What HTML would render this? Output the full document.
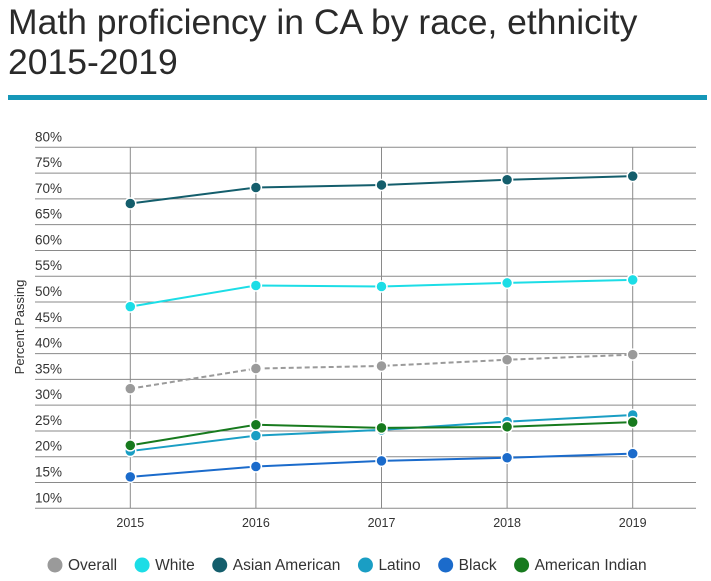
<!DOCTYPE html>
<html><head><meta charset="utf-8"><style>
body{margin:0;width:711px;height:581px;background:#fff;font-family:"Liberation Sans",sans-serif;overflow:hidden;position:relative}
h1{position:absolute;left:8px;top:2px;margin:0;font-weight:normal;font-size:35.5px;line-height:40px;color:#2a2a2a}
.bar{position:absolute;left:8px;top:95px;width:699px;height:5px;background:#1597b8}
svg{position:absolute;left:0;top:0}
</style></head><body>
<h1>Math proficiency in CA by race, ethnicity<br>2015-2019</h1>
<div class="bar"></div>
<svg id="c" width="711" height="581"></svg>
<script>
const years=["2015","2016","2017","2018","2019"];
const yTicks=[10,15,20,25,30,35,40,45,50,55,60,65,70,75,80];
const overall=[33.2,37.1,37.6,38.8,39.8];
const white=[49.1,53.2,53.0,53.7,54.3];
const asian=[69.1,72.2,72.7,73.7,74.4];
const latino=[21.1,24.1,25.2,26.8,28.1];
const black=[16.1,18.1,19.2,19.8,20.6];
const amind=[22.2,26.2,25.6,25.8,26.7];
const series=[
 {name:"Overall",vals:overall,color:"#9a9a9a",dash:"5,3"},
 {name:"White",vals:white,color:"#1cdde6"},
 {name:"Asian American",vals:asian,color:"#145e6c"},
 {name:"Latino",vals:latino,color:"#1a9ec4"},
 {name:"Black",vals:black,color:"#1b6bcb"},
 {name:"American Indian",vals:amind,color:"#177a1e"}];
const NS="http://www.w3.org/2000/svg",svg=document.getElementById('c');
const X0=35,X1=696,Y0=508.3,Y1=147.3;
const y=v=>Y0-(v-10)/70*(Y0-Y1);
const x=i=>130.3+i*125.6;
function mk(t,a){const e=document.createElementNS(NS,t);for(const k in a)e.setAttribute(k,a[k]);svg.appendChild(e);return e;}
yTicks.forEach(v=>{
 const l=mk('line',{x1:X0,x2:X1,y1:y(v),y2:y(v),stroke:'#8a8a8a','stroke-width':1});
 
 
 const t=mk('text',{x:X0,y:y(v)-6,'font-size':13.5,fill:'#333'});t.textContent=v+'%';
 
 
});
years.forEach((yr,i)=>{
 const l=mk('line',{x1:x(i),x2:x(i),y1:Y1,y2:Y0,stroke:'#8a8a8a','stroke-width':1});
 
 
 const t=mk('text',{x:x(i),y:527,'font-size':12.5,fill:'#333','text-anchor':'middle'});t.textContent=yr;
 
 
});
const yt=mk('text',{x:0,y:0,'font-size':13,fill:'#333','text-anchor':'middle',transform:'translate(24,327) rotate(-90)'});yt.textContent='Percent Passing';


series.forEach(s=>{
 const p=mk('polyline',{points:s.vals.map((v,i)=>x(i)+','+y(v)).join(' '),fill:'none',stroke:s.color,'stroke-width':2,'stroke-dasharray':s.dash||'none'});
 
 
 s.vals.forEach((v,i)=>{
  const c=mk('circle',{cx:x(i),cy:y(v),r:5.5,fill:s.color,stroke:'#fff','stroke-width':1.5});
  
  
 });
});
let lx=47;
series.forEach(s=>{
 const c=mk('circle',{cx:lx+8,cy:565,r:7.5,fill:s.color});
 
 
 const t=mk('text',{x:lx+21,y:570,'font-size':15.5,fill:'#333'});t.textContent=s.name;
 
 
 lx+=21+t.getComputedTextLength()+17;
});
</script>
</body></html>
